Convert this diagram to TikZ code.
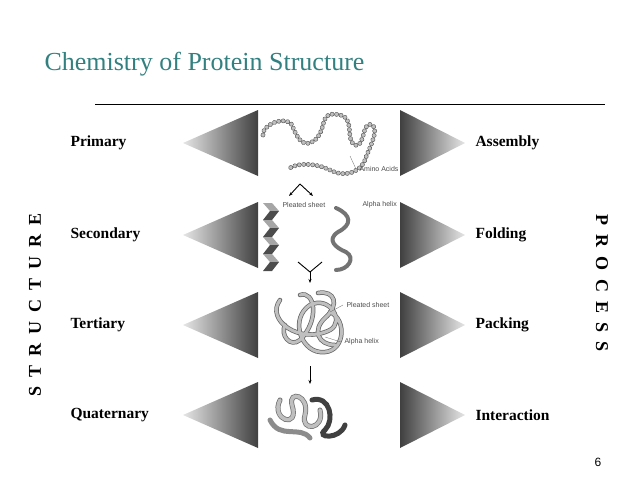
\documentclass[tikz,border=0pt]{standalone}
\usepackage{fontspec}
\setmainfont{Liberation Serif}
\setsansfont{Liberation Sans}
\usetikzlibrary{decorations.markings,arrows.meta}
\begin{document}
\begin{tikzpicture}[x=1pt,y=-1pt,
  lab/.style={font=\bfseries\fontsize{15.5}{18}\selectfont,anchor=west},
  tiny/.style={font=\sffamily\fontsize{7}{8}\selectfont,text=black!70},
  ltri/.style={left color=black!10, right color=black!75, draw=none},
  rtri/.style={left color=black!75, right color=black!10, draw=none},
  beads/.style={postaction={decorate,decoration={markings,mark=between positions 0 and 1 step 4.5pt with {\draw[black!70,fill=black!25,line width=0.4pt] (0,0) circle (2.1pt);}}}},
  arr/.style={-{Stealth[length=4pt]},line width=0.9pt}]
\useasboundingbox (0,0) rectangle (638,479);
\node[anchor=west,text=teal!60!gray,font=\fontsize{26}{30}\selectfont] (title) at (41,64) {Chemistry of Protein Structure};
\draw[line width=0.6pt] (95,104) coordinate (l1) -- (605,104) coordinate (l2);
\foreach \y/\a/\b [count=\i] in {143/Primary/Assembly,235/Secondary/Folding,325/Tertiary/Packing,415/Quaternary/Interaction}{
  \shade[ltri] (183,\y) -- (258,\y-33) -- (258,\y+33) -- cycle;
  \shade[rtri] (400,\y-33) -- (465,\y) -- (400,\y+33) -- cycle;
  \node[lab] (s\i) at (67,\y) {\a};
  \node[lab] (p\i) at (472,\y) {\b};
}
\node[rotate=90,font=\bfseries\fontsize{18}{20}\selectfont] (st) at (35,305) {S\,\,\,T\,\,\,R\,\,\,U\,\,\,C\,\,\,T\,\,\,U\,\,\,R\,\,\,E};
\node[rotate=-90,font=\bfseries\fontsize{18}{20}\selectfont] (pr) at (602,283) {P\,\,\,R\,\,\,O\,\,\,C\,\,\,E\,\,\,S\,\,\,S};
\node[font=\sffamily\fontsize{12}{14}\selectfont] (pg) at (598,462) {6};
% primary chain
\path[beads] (263,135) .. controls (262,125) and (285,115) .. (292,125) .. controls (296,135) and (302,150) .. (315,140)
  .. controls (328,128) and (318,110) .. (340,115) .. controls (355,118) and (345,140) .. (355,145)
  .. controls (365,148) and (362,120) .. (372,125) .. controls (380,130) and (368,150) .. (365,160)
  .. controls (360,172) and (345,178) .. (330,170) .. controls (318,164) and (300,162) .. (290,168);
\node[tiny,anchor=west] (aa) at (356,169) {Amino Acids};
\draw[black!60,line width=0.3pt] (aa.west) -- (350,156);
% arrows between rows
\coordinate (a0) at (300,184);
\coordinate (a1) at (289,196);
\coordinate (a2) at (313,196);
\draw[arr] (a0) -- (a1);
\draw[arr] (a0) -- (a2);
% pleated sheet
\foreach \k [evaluate=\k as \yy using 203+\k*17] in {0,1,2,3}{
  \fill[black!35] (263,\yy) -- (272,\yy) -- (279,\yy+8) -- (270,\yy+8) -- cycle;
  \fill[black!70] (270,\yy+8) -- (279,\yy+8) -- (272,\yy+17) -- (263,\yy+17) -- cycle;
}
\node[tiny,anchor=west] (ps1) at (279,205) {Pleated sheet};
% alpha helix
\draw[black!55,line width=4pt,line cap=round] (336,208) .. controls (352,215) and (352,225) .. (338,232) .. controls (326,240) and (336,248) .. (346,252) .. controls (356,258) and (348,270) .. (336,270);
\node[tiny,anchor=west] (ah1) at (359,205) {Alpha helix};
% Y arrow
\coordinate (y1) at (298,262);
\coordinate (y2) at (322,262);
\coordinate (yc) at (310,272);
\coordinate (yb) at (310,283);
\draw[line width=0.9pt] (y1) -- (yc) -- (y2);
\draw[arr] (yc) -- (yb);
% tertiary
\foreach \w/\c in {4.5pt/black!60,3pt/black!25}{
\draw[\c,line width=\w,line cap=round] (280,300) .. controls (265,320) and (300,345) .. (330,330) .. controls (345,322) and (330,295) .. (310,305)
  .. controls (290,318) and (300,350) .. (320,352) .. controls (345,355) and (348,320) .. (330,312);
\draw[\c,line width=\w,line cap=round] (300,295) .. controls (315,290) and (320,320) .. (300,340) .. controls (290,348) and (280,335) .. (285,325);
\draw[\c,line width=\w,line cap=round] (318,293) .. controls (335,290) and (340,305) .. (325,318) .. controls (312,330) and (318,345) .. (335,345);
}
\node[tiny,anchor=west] (ps2) at (343,305) {Pleated sheet};
\node[tiny,anchor=west] (ah2) at (341,342) {Alpha helix};
\draw[black!60,line width=0.3pt] (ps2.west) -- (330,312);
\draw[black!60,line width=0.3pt] (ah2.west) -- (325,337);
% arrow down
\coordinate (d1) at (310,366);
\coordinate (d2) at (310,384);
\draw[arr] (d1) -- (d2);
% quaternary
\draw[black!55,line width=5pt,line cap=round] (280,400) .. controls (270,420) and (300,430) .. (292,405) .. controls (288,390) and (310,395) .. (305,415) .. controls (300,432) and (325,430) .. (320,410);
\draw[black!25,line width=3.5pt,line cap=round] (280,400) .. controls (270,420) and (300,430) .. (292,405) .. controls (288,390) and (310,395) .. (305,415) .. controls (300,432) and (325,430) .. (320,410);
\draw[black!75,line width=5pt,line cap=round] (312,400) .. controls (330,395) and (335,420) .. (325,430) .. controls (315,438) and (340,440) .. (345,425);
\draw[black!45,line width=5pt,line cap=round] (270,420) .. controls (280,440) and (300,425) .. (310,438);
\end{tikzpicture}
\end{document}
